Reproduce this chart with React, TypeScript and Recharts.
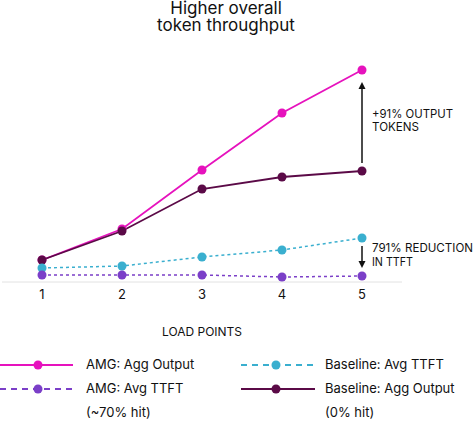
import React from 'react';
import { LineChart, Line, XAxis, YAxis, ReferenceLine } from 'recharts';

const loadPoints = [1, 2, 3, 4, 5];
const amgAggOutput = [22, 53, 112, 169, 212];
const baselineAggOutput = [22, 51, 93, 105, 111];
const baselineAvgTtft = [14, 16, 25, 32, 44];
const amgAvgTtft = [7, 7, 7, 5, 6];

const outputGap = [119, 200];
const ttftGap = [36, 14];

const titleLines = ['Higher overall', 'token throughput'];

const FONT = 'Inter, "Noto Sans", sans-serif';

const data = loadPoints.map((load, i) => ({
  load,
  amgAgg: amgAggOutput[i],
  baseAgg: baselineAggOutput[i],
  baseTtft: baselineAvgTtft[i],
  amgTtft: amgAvgTtft[i],
}));

const series = [
  { key: 'amgAgg', name: 'AMG: Agg Output', color: '#e612bd', dashed: false },
  { key: 'baseAgg', name: 'Baseline: Agg Output', color: '#5b0a47', dashed: false },
  { key: 'baseTtft', name: 'Baseline: Avg TTFT', color: '#3aafcf', dashed: true },
  { key: 'amgTtft', name: 'AMG: Avg TTFT', color: '#7b3fc8', dashed: true },
];

// label lines with the width they take in the reference
const makeArrow = (lines: [string, number][], shift: number) => (props: any) => {
  const { x1, y1, x2, y2 } = props;
  const dir = y2 < y1 ? 1 : -1;
  const midY = (y1 + y2) / 2 + shift;
  return (
    <g>
      <line x1={x1} y1={y1} x2={x2} y2={y2 + dir * 5} stroke="#111" strokeWidth={1.5} />
      <polygon
        points={`${x2},${y2} ${x2 - 3.5},${y2 + dir * 7} ${x2 + 3.5},${y2 + dir * 7}`}
        fill="#111"
      />
      {lines.map(([t, w], i) => (
        <text
          key={t}
          x={x1 + 10}
          y={midY + (i - (lines.length - 1) / 2) * 13.5}
          dominantBaseline="middle"
          fontSize={12}
          fontFamily={FONT}
          fill="#111"
          textLength={w}
          lengthAdjust="spacingAndGlyphs"
        >
          {t}
        </text>
      ))}
    </g>
  );
};

const legendItems = [
  { s: series[0], col: 0, row: 0 },
  { s: series[3], col: 0, row: 1 },
  { s: series[2], col: 1, row: 0 },
  { s: series[1], col: 1, row: 1 },
];
const legendNotes = ['(~70% hit)', '(0% hit)'];
const legendCols = [{ x0: 0, x1: 73, dot: 38, text: 86 }, { x0: 241, x1: 315, dot: 276, text: 325 }];
const legendRows = [25, 49, 73];

const Legend2: React.FC = () => (
  <svg width={474} height={84} style={{ position: 'absolute', left: 0, top: 340 }}>
    {legendItems.map(({ s, col, row }) => {
      const c = legendCols[col];
      const y = legendRows[row];
      return (
        <g key={s.key}>
          <line
            x1={c.x0}
            x2={c.x1}
            y1={y}
            y2={y}
            stroke={s.color}
            strokeWidth={1.8}
            strokeDasharray={s.dashed ? '6 5' : undefined}
          />
          <circle cx={c.dot} cy={y} r={4.5} fill={s.color} />
          <text x={c.text} y={y} dominantBaseline="middle" fontSize={13} fontFamily={FONT} fill="#111">
            {s.name}
          </text>
        </g>
      );
    })}
    {legendNotes.map((n, i) => (
      <text
        key={n}
        x={legendCols[i].text}
        y={legendRows[2]}
        dominantBaseline="middle"
        fontSize={13}
        fontFamily={FONT}
        fill="#111"
      >
        {n}
      </text>
    ))}
  </svg>
);

const App: React.FC = () => (
  <div
    style={{
      position: 'absolute',
      left: 0,
      top: 0,
      width: 474,
      height: 424,
      overflow: 'hidden',
      background: '#fff',
    }}
  >
    <div style={{ position: 'absolute', left: 0, top: 0 }}>
      <LineChart width={474} height={340} data={data} margin={{ top: 62, right: 72, bottom: 0, left: 2 }}>
        <XAxis
          type="number"
          dataKey="load"
          domain={[0.5, 5.5]}
          ticks={loadPoints}
          tickLine={false}
          axisLine={{ stroke: '#e2e2e2' }}
          tick={{ fill: '#111', fontSize: 13, fontFamily: FONT }}
          height={58}
          label={{ value: 'LOAD POINTS', position: 'insideBottom', offset: 4, fill: '#111', fontSize: 12, fontFamily: FONT }}
        />
        <YAxis hide domain={[0, 220]} />
        {series.map((s) => (
          <Line
            key={s.key}
            dataKey={s.key}
            name={s.name}
            stroke={s.color}
            strokeWidth={s.dashed ? 1.5 : 1.8}
            strokeDasharray={s.dashed ? '3 3' : undefined}
            dot={{ r: 4.5, fill: s.color, stroke: s.color, strokeWidth: 0 }}
            isAnimationActive={false}
          />
        ))}
        <ReferenceLine
          segment={[{ x: 5, y: outputGap[0] }, { x: 5, y: outputGap[1] }]}
          shape={makeArrow([['+91% OUTPUT', 81], ['TOKENS', 47]], -1.5)}
          ifOverflow="visible"
        />
        <ReferenceLine
          segment={[{ x: 5, y: ttftGap[0] }, { x: 5, y: ttftGap[1] }]}
          shape={makeArrow([['791% REDUCTION', 101], ['IN TTFT', 41]], -1.5)}
          ifOverflow="visible"
        />
      </LineChart>
    </div>
    <svg width={474} height={40} style={{ position: 'absolute', left: 0, top: 0 }}>
      {titleLines.map((t, i) => (
        <text key={t} x={226} y={14 + i * 16.5} textAnchor="middle" fontSize={17} fontFamily={FONT} fill="#111">
          {t}
        </text>
      ))}
    </svg>
    <Legend2 />
  </div>
);

export default App;
